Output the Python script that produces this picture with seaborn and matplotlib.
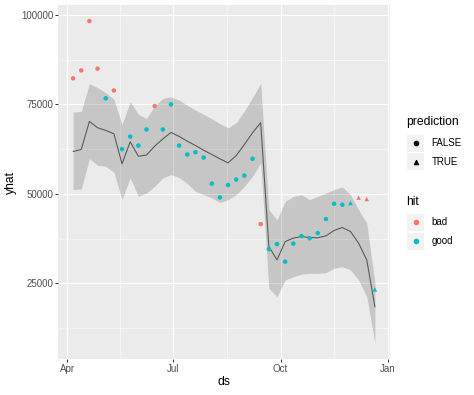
import matplotlib
matplotlib.use("Agg")
import matplotlib.pyplot as plt
import matplotlib.dates as mdates
from matplotlib.patches import Rectangle
import numpy as np
import pandas as pd
import seaborn as sns

# weekly forecast points
ds = pd.date_range("2017-04-06", periods=38, freq="7D")
yhat = [61840, 62400, 70250, 68490, 67730, 66800, 58390, 64560, 60520, 60860,
        63330, 65350, 67170, 66050, 64730, 63520, 62200, 61000, 59790, 58670,
        60720, 63800, 67090, 69890, 35270, 31530, 36670, 37620, 38070, 37790,
        37710, 38270, 39760, 40600, 39480, 36220, 31530, 18430]
yhat_upper = [72870, 73060, 80830, 79710, 78310, 76430, 69410, 75780, 72220, 71100,
              74550, 76710, 77080, 76230, 74750, 73430, 72220, 71010, 69610, 68490,
              69890, 73150, 76910, 80920, 45560, 42760, 47890, 49300, 49770, 48370,
              49300, 50250, 51180, 51930, 49770, 45560, 41830, 25000]
yhat_lower = [51180, 51370, 59870, 57990, 57710, 56030, 48370, 54460, 49300, 50250,
              52100, 54460, 55380, 54540, 52860, 50700, 49770, 48850, 47610, 48370,
              49770, 52100, 54910, 58670, 23590, 21240, 25920, 26850, 27520, 27800,
              27800, 27970, 29200, 29650, 28730, 25920, 21240, 8330]
actual = [82300, 84500, 98300, 85000, 76700, 78900, 62500, 66000, 63500, 68000,
          74550, 68000, 75000, 63500, 61000, 61650, 60150, 52850, 49000, 52500,
          54000, 55100, 59800, 41550, 34550, 35950, 31050, 36100, 38200, 37600,
          39050, 42950, 47250, 46950, 47450, 48950, 48550, 23300]
hit = ["bad", "bad", "bad", "bad", "good", "bad", "good", "good", "good", "good",
       "bad", "good", "good", "good", "good", "good", "good", "good", "good", "good",
       "good", "good", "good", "bad", "good", "good", "good", "good", "good", "good",
       "good", "good", "good", "good", "good", "bad", "bad", "good"]
prediction = ["FALSE"] * 34 + ["TRUE"] * 4

hit_colors = {"bad": "#F8766D", "good": "#00BFC4"}
shapes = {"FALSE": "o", "TRUE": "^"}

df = pd.DataFrame({"ds": ds, "yhat": yhat, "upper": yhat_upper, "lower": yhat_lower,
                   "actual": actual, "hit": hit, "prediction": prediction})

sns.set_theme(style="white")
plt.rcParams["font.family"] = ["Liberation Sans", "DejaVu Sans"]

small, big = 9.7, 12.1

fig = plt.figure(figsize=(474 / 72, 395 / 72), dpi=72)
ax = fig.add_axes([58 / 474, 1 - 359 / 395, (390 - 58) / 474, (359 - 5) / 395])
ax.set_facecolor("#EBEBEB")
for s in ax.spines.values():
    s.set_visible(False)

ax.fill_between(df["ds"], df["lower"], df["upper"], color="#333333", alpha=0.2,
                linewidth=0, zorder=2)
sns.lineplot(data=df, x="ds", y="yhat", color="#5a5a5a", linewidth=1.1, ax=ax, zorder=3)
sns.scatterplot(data=df, x="ds", y="actual", hue="hit", style="prediction",
                palette=hit_colors, markers=shapes, s=20, linewidth=0,
                legend=False, ax=ax, zorder=4)

# ggplot-like limits (5% expansion)
lo = min(df["lower"].min(), df["actual"].min())
hi = max(df["upper"].max(), df["actual"].max())
pad = (hi - lo) * 0.05
ax.set_ylim(lo - pad, hi + pad)
x0, x1 = mdates.date2num(df["ds"].min()), mdates.date2num(df["ds"].max())
xpad = (x1 - x0) * 0.05
ax.set_xlim(x0 - xpad, x1 + xpad)

major_x = pd.to_datetime(["2017-04-01", "2017-07-01", "2017-10-01", "2018-01-01"])
minor_x = pd.to_datetime(["2017-05-16", "2017-08-16", "2017-11-16"])
ax.set_xticks(major_x)
ax.set_xticklabels(["Apr", "Jul", "Oct", "Jan"])
ax.set_xticks(minor_x, minor=True)
ax.set_yticks([25000, 50000, 75000, 100000])
ax.set_yticklabels(["25000", "50000", "75000", "100000"])
ax.set_yticks([12500, 37500, 62500, 87500], minor=True)

ax.grid(which="major", color="white", linewidth=1.1, zorder=0)
ax.grid(which="minor", color="white", linewidth=0.55, zorder=0)
ax.set_axisbelow(True)
ax.tick_params(which="major", length=2.75, width=1.0, color="#333333",
               labelsize=small, labelcolor="#4D4D4D", pad=2)
ax.tick_params(which="minor", length=0)
ax.tick_params(axis="x", bottom=True)
ax.tick_params(axis="y", left=True)

ax.set_xlabel("ds", fontsize=big, color="black", labelpad=2)
ax.set_ylabel("yhat", fontsize=big, color="black", labelpad=4)

# ggplot-style legends, laid out in pixel space
lg = fig.add_axes([0, 0, 1, 1], zorder=5)
lg.set_xlim(0, 474)
lg.set_ylim(395, 0)
lg.axis("off")


def legend_block(title, title_y, labels, row_ys, colors, markers):
    lg.text(406.5, title_y, title, fontsize=big, color="black", va="center", ha="left")
    for lab, ry, c, m in zip(labels, row_ys, colors, markers):
        lg.add_patch(Rectangle((407, ry - 8.6), 17.3, 17.3, facecolor="#F2F2F2",
                               edgecolor="none"))
        lg.plot([415.7], [ry], marker=m, color=c, markersize=4.6, linestyle="none")
        lg.text(431.7, ry, lab, fontsize=small, color="black", va="center", ha="left")


legend_block("prediction", 122, ["FALSE", "TRUE"], [143.3, 161.7],
             ["black", "black"], [shapes["FALSE"], shapes["TRUE"]])
legend_block("hit", 202, ["bad", "good"], [222.3, 241.3],
             [hit_colors["bad"], hit_colors["good"]], ["o", "o"])

fig.savefig("out.png", dpi=72)
